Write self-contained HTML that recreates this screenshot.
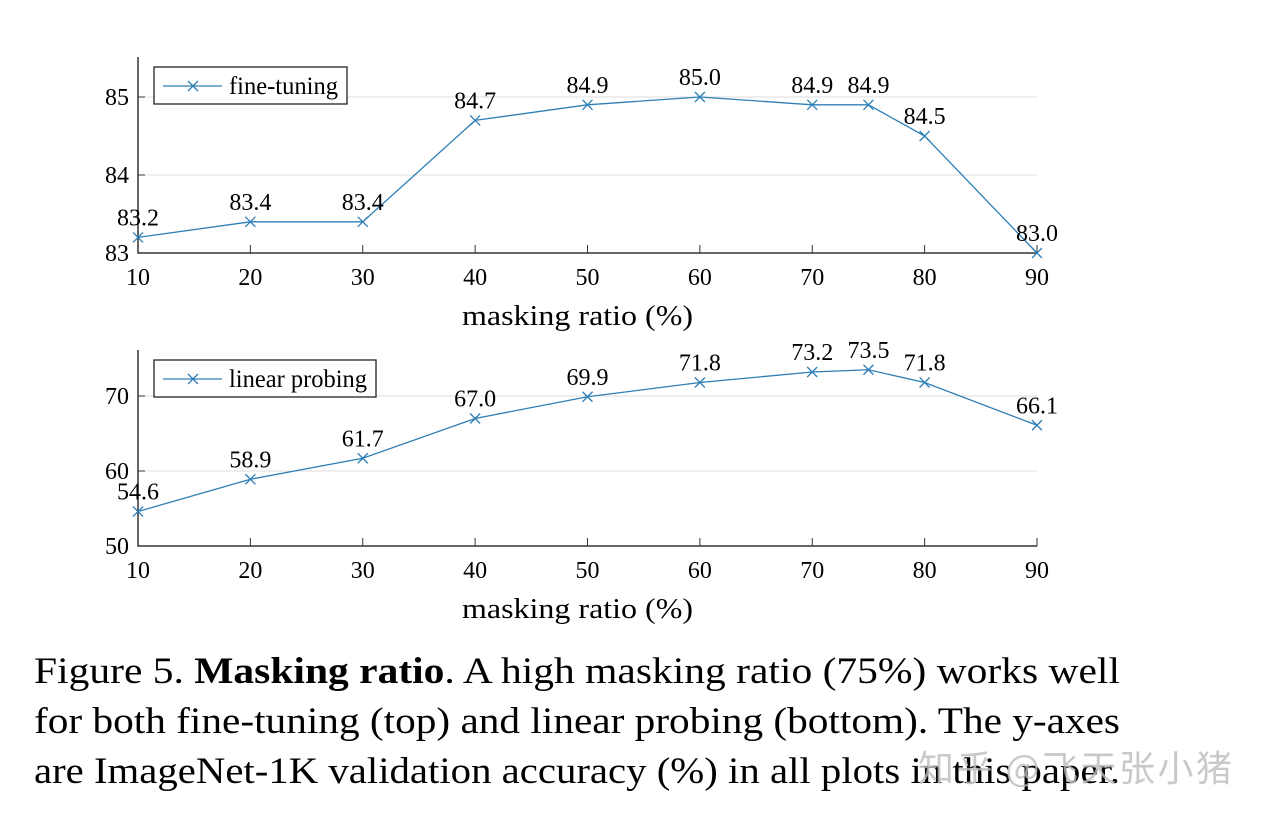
<!DOCTYPE html>
<html><head><meta charset="utf-8"><style>
html,body{margin:0;padding:0;background:#fff;width:1264px;height:818px;overflow:hidden}
svg{display:block}
text{font-family:"Liberation Serif","Noto Serif CJK SC",serif}
</style></head><body>
<svg id="fig" width="1264" height="818" xmlns="http://www.w3.org/2000/svg">
<g id="top"></g>
<g id="bot"></g>
<g font-size="37" fill="#000">
<text x="34" y="683" textLength="1086" lengthAdjust="spacingAndGlyphs">Figure 5. <tspan font-weight="bold">Masking ratio</tspan>. A high masking ratio (75%) works well</text>
<text x="34" y="733" textLength="1086" lengthAdjust="spacingAndGlyphs">for both fine-tuning (top) and linear probing (bottom). The y-axes</text>
<text x="34" y="783" textLength="1086" lengthAdjust="spacingAndGlyphs">are ImageNet-1K validation accuracy (%) in all plots in this paper.</text>
</g>
<text x="918" y="781" font-size="36" fill="#bbb" fill-opacity="0.8" textLength="314" style="font-family:'Noto Sans CJK SC',sans-serif">知乎 @飞天张小猪</text>
</svg>
<script>
const ratios=[10,20,30,40,50,60,70,75,80,90];
const ftValues=[83.2,83.4,83.4,84.7,84.9,85.0,84.9,84.9,84.5,83.0];
const lpValues=[54.6,58.9,61.7,67.0,69.9,71.8,73.2,73.5,71.8,66.1];
const xTicks=[10,20,30,40,50,60,70,80,90];
const ftTicks=[83,84,85];
const lpTicks=[50,60,70];
const NS="http://www.w3.org/2000/svg";
function mk(p,t,a){const e=document.createElementNS(NS,t);for(const k in a)e.setAttribute(k,a[k]);p.appendChild(e);return e;}
function chart(g,vals,yTicks,ymin,ymax,y0,y1,axTop,legend,legW,legTW){
  const x=v=>138+(v-10)*(1037-138)/80;
  const y=v=>y0-(v-ymin)*(y0-y1)/(ymax-ymin);
  yTicks.forEach(t=>{
    if(t!==ymin){const l=mk(g,'line',{x1:138,x2:1037,y1:y(t),y2:y(t),stroke:'#dcdcdc','stroke-width':1});
    
    }
    const tx=mk(g,'text',{x:129,y:y(t)+8,'font-size':24,'text-anchor':'end'});tx.textContent=t;
    
    
    mk(g,'line',{x1:138,x2:145,y1:y(t),y2:y(t),stroke:'#333'});
  });
  const ax=mk(g,'path',{d:`M138 ${axTop}V${y0}H1037`,stroke:'#333','stroke-width':1.5,fill:'none'});
  
  
  xTicks.forEach(t=>{
    mk(g,'line',{x1:x(t),x2:x(t),y1:y0,y2:y0-8,stroke:'#333'});
    const tx=mk(g,'text',{x:x(t),y:y0+32,'font-size':24,'text-anchor':'middle'});tx.textContent=t;
    
    
  });
  const xt=mk(g,'text',{x:462,y:y0+72,'font-size':29,textLength:231,lengthAdjust:'spacingAndGlyphs'});xt.textContent='masking ratio (%)';
  
  
  const lg=mk(g,'g',{});
  
  
  mk(lg,'rect',{x:154,y:axTop+10,width:legW,height:37,fill:'#fff',stroke:'#222','stroke-width':1.3});
  const ly=axTop+29;
  mk(lg,'line',{x1:163,x2:222,y1:ly,y2:ly,stroke:'#2e7fb5','stroke-width':1.3});
  mk(lg,'path',{d:`M188 ${ly-5}L198 ${ly+5}M188 ${ly+5}L198 ${ly-5}`,stroke:'#2e7fb5','stroke-width':1.3});
  const lt=mk(lg,'text',{x:229,y:ly+8,'font-size':25,textLength:legTW,lengthAdjust:'spacingAndGlyphs'});lt.textContent=legend;
  const pts=ratios.map((r,i)=>x(r)+','+y(vals[i])).join(' ');
  const pl=mk(g,'polyline',{points:pts,fill:'none',stroke:'#2e7fb5','stroke-width':1.3});
  
  
  ratios.forEach((r,i)=>{
    const cx=x(r),cy=y(vals[i]);
    const m=mk(g,'path',{d:`M${cx-5} ${cy-5}L${cx+5} ${cy+5}M${cx-5} ${cy+5}L${cx+5} ${cy-5}`,stroke:'#2e7fb5','stroke-width':1.3});
    
    
    const lb=mk(g,'text',{x:cx,y:cy-12,'font-size':24,'text-anchor':'middle'});lb.textContent=vals[i].toFixed(1);
    
    
  });
}
chart(document.getElementById('top'),ftValues,ftTicks,83,85,253,97,57,'fine-tuning',193,109);
chart(document.getElementById('bot'),lpValues,lpTicks,50,70,546,396,350,'linear probing',222,138);
</script>
</body></html>
